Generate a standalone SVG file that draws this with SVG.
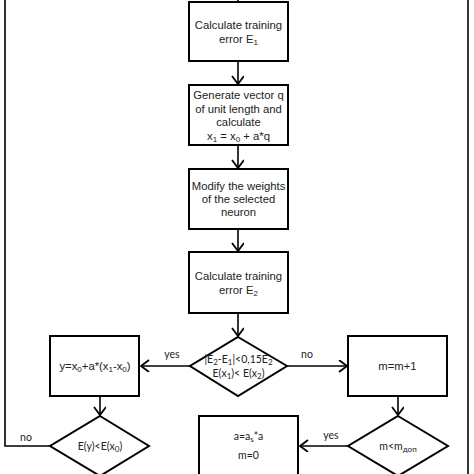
<svg xmlns="http://www.w3.org/2000/svg" width="474" height="474" viewBox="0 0 474 474">
<defs>
<style>
.box{fill:#fff;stroke:#000;stroke-width:2}
.ln{fill:none;stroke:#000;stroke-width:1.6}
.t{font-family:"Liberation Sans",Arial,sans-serif;font-size:11.3px;fill:#222;text-anchor:middle}
.c{font-family:Lato,"Open Sans",sans-serif;font-size:10.5px;fill:#222;text-anchor:middle}
.lb{font-family:Lato,"Open Sans",sans-serif;font-size:10.5px;fill:#222;text-anchor:middle}
.s{font-size:8px}
</style>
<marker id="ah" markerUnits="userSpaceOnUse" markerWidth="14" markerHeight="14" refX="9" refY="6" orient="auto">
<path d="M1,0 L9,6 L1,12" fill="none" stroke="#000" stroke-width="1.8"/>
</marker>
</defs>
<rect width="474" height="474" fill="#fff"/>
<g id="connectors">
<line class="ln" x1="238" y1="0" x2="238" y2="2"/>
<line class="ln" x1="238" y1="61" x2="238" y2="84" marker-end="url(#ah)"/>
<line class="ln" x1="238" y1="145" x2="238" y2="168" marker-end="url(#ah)"/>
<line class="ln" x1="238" y1="229" x2="238" y2="251" marker-end="url(#ah)"/>
<line class="ln" x1="238" y1="313" x2="238" y2="336" marker-end="url(#ah)"/>
<line class="ln" x1="190" y1="366" x2="141" y2="366" marker-end="url(#ah)"/>
<line class="ln" x1="287" y1="366" x2="347" y2="366" marker-end="url(#ah)"/>
<line class="ln" x1="100" y1="396" x2="100" y2="415" marker-end="url(#ah)"/>
<line class="ln" x1="398" y1="396" x2="398" y2="415" marker-end="url(#ah)"/>
<line class="ln" x1="348" y1="446" x2="300" y2="446" marker-end="url(#ah)"/>
<polyline class="ln" points="50,446 5,446 5,0"/>
<line class="ln" x1="468" y1="0" x2="468" y2="474"/>
<text class="lb" x="172" y="358">yes</text>
<text class="lb" x="307" y="358">no</text>
<text class="lb" x="26" y="441">no</text>
<text class="lb" x="331" y="439">yes</text>
</g>
<g id="n1">
<rect class="box" x="189" y="2" width="99" height="59"/>
<text class="t" x="238.5" y="29">Calculate training</text>
<text class="t" x="238.5" y="43">error E<tspan class="s" dy="2">1</tspan></text>
</g>
<g id="n2">
<rect class="box" x="189" y="85" width="99" height="60"/>
<text class="t" x="238.5" y="99">Generate vector q</text>
<text class="t" x="238.5" y="113">of unit length and</text>
<text class="t" x="238.5" y="126">calculate</text>
<text class="t" x="238.5" y="140">x<tspan class="s" dy="2">1</tspan><tspan dy="-2"> = x</tspan><tspan class="s" dy="2">0</tspan><tspan dy="-2"> + a*q</tspan></text>
</g>
<g id="n3">
<rect class="box" x="189" y="169" width="99" height="60"/>
<text class="t" x="238.5" y="190">Modify the weights</text>
<text class="t" x="238.5" y="203">of the selected</text>
<text class="t" x="238.5" y="216">neuron</text>
</g>
<g id="n4">
<rect class="box" x="189" y="252" width="99" height="61"/>
<text class="t" x="238.5" y="280">Calculate training</text>
<text class="t" x="238.5" y="294">error E<tspan class="s" dy="2">2</tspan></text>
</g>
<g id="d1">
<polygon class="box" points="238,337 287,366 238,396 190,366"/>
<text class="c" x="238.5" y="363">|E<tspan class="s" dy="2">2</tspan><tspan dy="-2">-E</tspan><tspan class="s" dy="2">1</tspan><tspan dy="-2">|&lt;0,15E</tspan><tspan class="s" dy="2">2</tspan></text>
<text class="c" x="238.5" y="377">E(x<tspan class="s" dy="2">1</tspan><tspan dy="-2">)&lt; E(x</tspan><tspan class="s" dy="2">2</tspan><tspan dy="-2">)</tspan></text>
</g>
<g id="n5">
<rect class="box" x="50" y="336" width="89" height="60"/>
<text class="t" x="95" y="370">y=x<tspan class="s" dy="2">0</tspan><tspan dy="-2">+a*(x</tspan><tspan class="s" dy="2">1</tspan><tspan dy="-2">-x</tspan><tspan class="s" dy="2">0</tspan><tspan dy="-2">)</tspan></text>
</g>
<g id="n6">
<rect class="box" x="348" y="336" width="99" height="60"/>
<text class="t" x="397.5" y="370">m=m+1</text>
</g>
<g id="d2">
<polygon class="box" points="100,416 149,446 100,476 50,446"/>
<text class="c" x="100" y="450">E(y)&lt;E(x<tspan class="s" dy="2">0</tspan><tspan dy="-2">)</tspan></text>
</g>
<g id="d3">
<polygon class="box" points="398,416 448,446 398,476 348,446"/>
<text class="c" x="398" y="450">m&lt;m<tspan class="s" dy="2">доп</tspan></text>
</g>
<g id="n7">
<rect class="box" x="199" y="416" width="99" height="70"/>
<text class="c" x="248.5" y="440">a=a<tspan class="s" dy="2">s</tspan><tspan dy="-2">*a</tspan></text>
<text class="c" x="248.5" y="459">m=0</text>
</g>
</svg>
